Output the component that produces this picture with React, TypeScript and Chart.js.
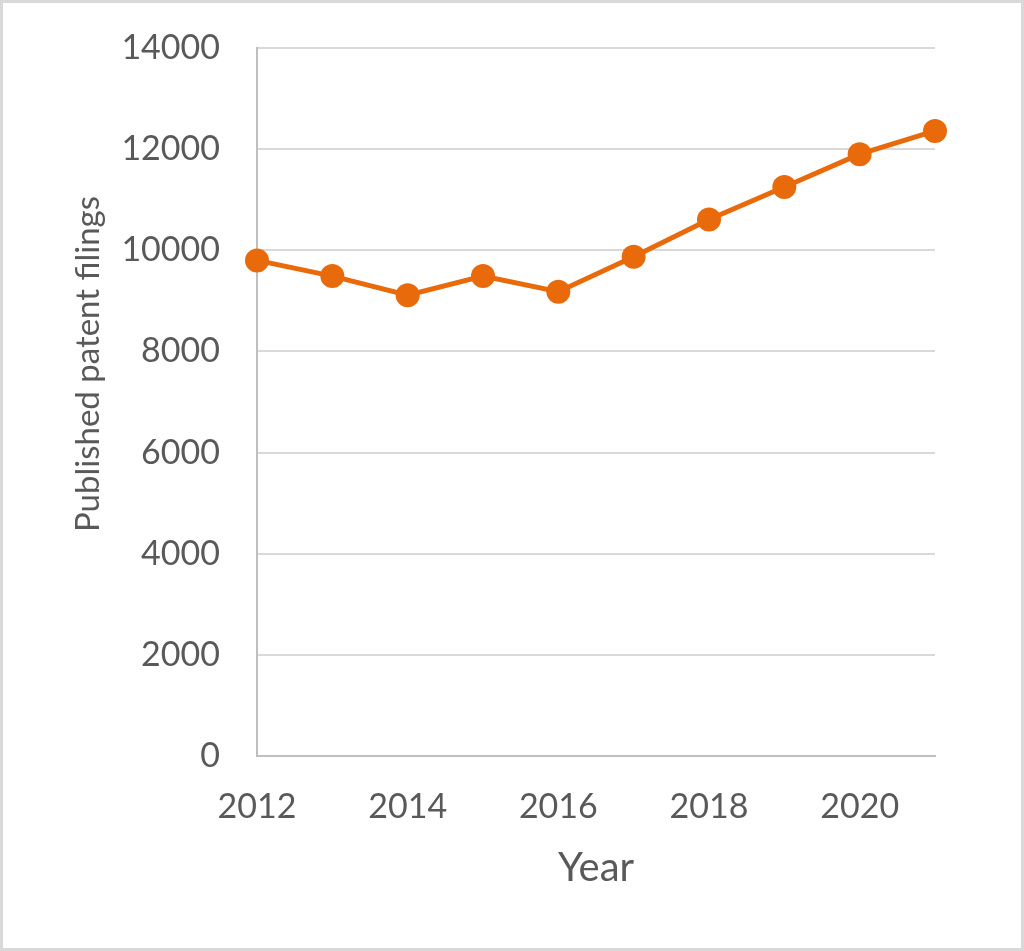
import React, { useEffect, useRef } from "react";
import { Chart, registerables } from "chart.js";

Chart.register(...registerables);

const years: string[] = ["2012", "2013", "2014", "2015", "2016", "2017", "2018", "2019", "2020", "2021"];
const filings: number[] = [9800, 9490, 9110, 9490, 9180, 9870, 10610, 11250, 11900, 12360];
const xTitle = "Year";
const yTitle = "Published patent filings";

const FONT = "Lato";
const TEXT = "#595959";

const frame = {
  id: "frame",
  beforeDraw(chart: any) {
    const { ctx, width, height } = chart;
    ctx.save();
    ctx.fillStyle = "#ffffff";
    ctx.fillRect(0, 0, width, height);
    ctx.strokeStyle = "#D9D9D9";
    ctx.lineWidth = 3;
    ctx.strokeRect(1.5, 1.5, width - 3, height - 3);
    ctx.restore();
  },
};

// Draws the y-axis title a little above the plot centre, as in the original.
const yTitlePlugin = {
  id: "yTitle",
  afterDraw(chart: any) {
    const { ctx } = chart;
    ctx.save();
    ctx.translate(88, 364);
    ctx.rotate(-Math.PI / 2);
    ctx.fillStyle = TEXT;
    ctx.font = `33px ${FONT}`;
    ctx.textAlign = "center";
    ctx.textBaseline = "middle";
    ctx.fillText(yTitle, 0, 0);
    ctx.restore();
  },
};

export default function App() {
  const ref = useRef<HTMLCanvasElement | null>(null);
  useEffect(() => {
    let chart: any = null;
    let cancelled = false;
    const make = () => {
      if (cancelled || !ref.current) return;
      chart = new Chart(ref.current, {
        type: "line",
        data: {
          labels: years,
          datasets: [
            {
              data: filings,
              borderColor: "#E96A0A",
              backgroundColor: "#E96A0A",
              borderWidth: 5,
              pointRadius: 12,
              pointHoverRadius: 12,
              pointBorderWidth: 0,
              pointBackgroundColor: "#E96A0A",
              tension: 0,
            },
          ],
        },
        options: {
          responsive: false,
          animation: false,
          layout: { padding: { top: 48, right: 89, bottom: 0, left: 0 } },
          plugins: { legend: { display: false }, tooltip: { enabled: false } },
          scales: {
            x: {
              type: "category",
              offset: false,
              grid: { display: false, drawTicks: false },
              border: { display: true, color: "#BFBFBF", width: 2 },
              ticks: {
                autoSkip: false,
                maxRotation: 0,
                padding: 31,
                color: TEXT,
                font: { family: FONT, size: 34 },
                callback: (_v: any, i: number) => (i % 2 === 0 ? years[i] : ""),
              },
              title: {
                display: true,
                text: xTitle,
                color: TEXT,
                font: { family: FONT, size: 40 },
                padding: { top: 0, bottom: 59 },
              },
              afterFit: (s: any) => {
                s.height = 951 - 756;
              },
            },
            y: {
              min: 0,
              max: 14000,
              ticks: {
                stepSize: 2000,
                padding: 0,
                color: TEXT,
                font: { family: FONT, size: 34 },
                callback: (v: any) => String(v),
              },
              grid: {
                color: "#D9D9D9",
                lineWidth: 2,
                drawTicks: true,
                tickLength: 37,
                tickColor: "rgba(0,0,0,0)",
              },
              border: { display: true, color: "#BFBFBF", width: 2 },
              afterFit: (s: any) => {
                s.width = 257;
              },
            },
          },
        },
        plugins: [frame, yTitlePlugin],
      } as any);
    };
    const fonts: any = (document as any).fonts;
    if (fonts && fonts.load) {
      Promise.all([fonts.load(`34px ${FONT}`), fonts.load(`40px ${FONT}`)])
        .catch(() => {})
        .then(make);
    } else {
      make();
    }
    return () => {
      cancelled = true;
      if (chart) chart.destroy();
    };
  }, []);
  return (
    <div style={{ position: "fixed", left: 0, top: 0, width: 1024, height: 951, background: "#fff" }}>
      <canvas ref={ref} width={1024} height={951} style={{ display: "block", width: 1024, height: 951 }} />
    </div>
  );
}
